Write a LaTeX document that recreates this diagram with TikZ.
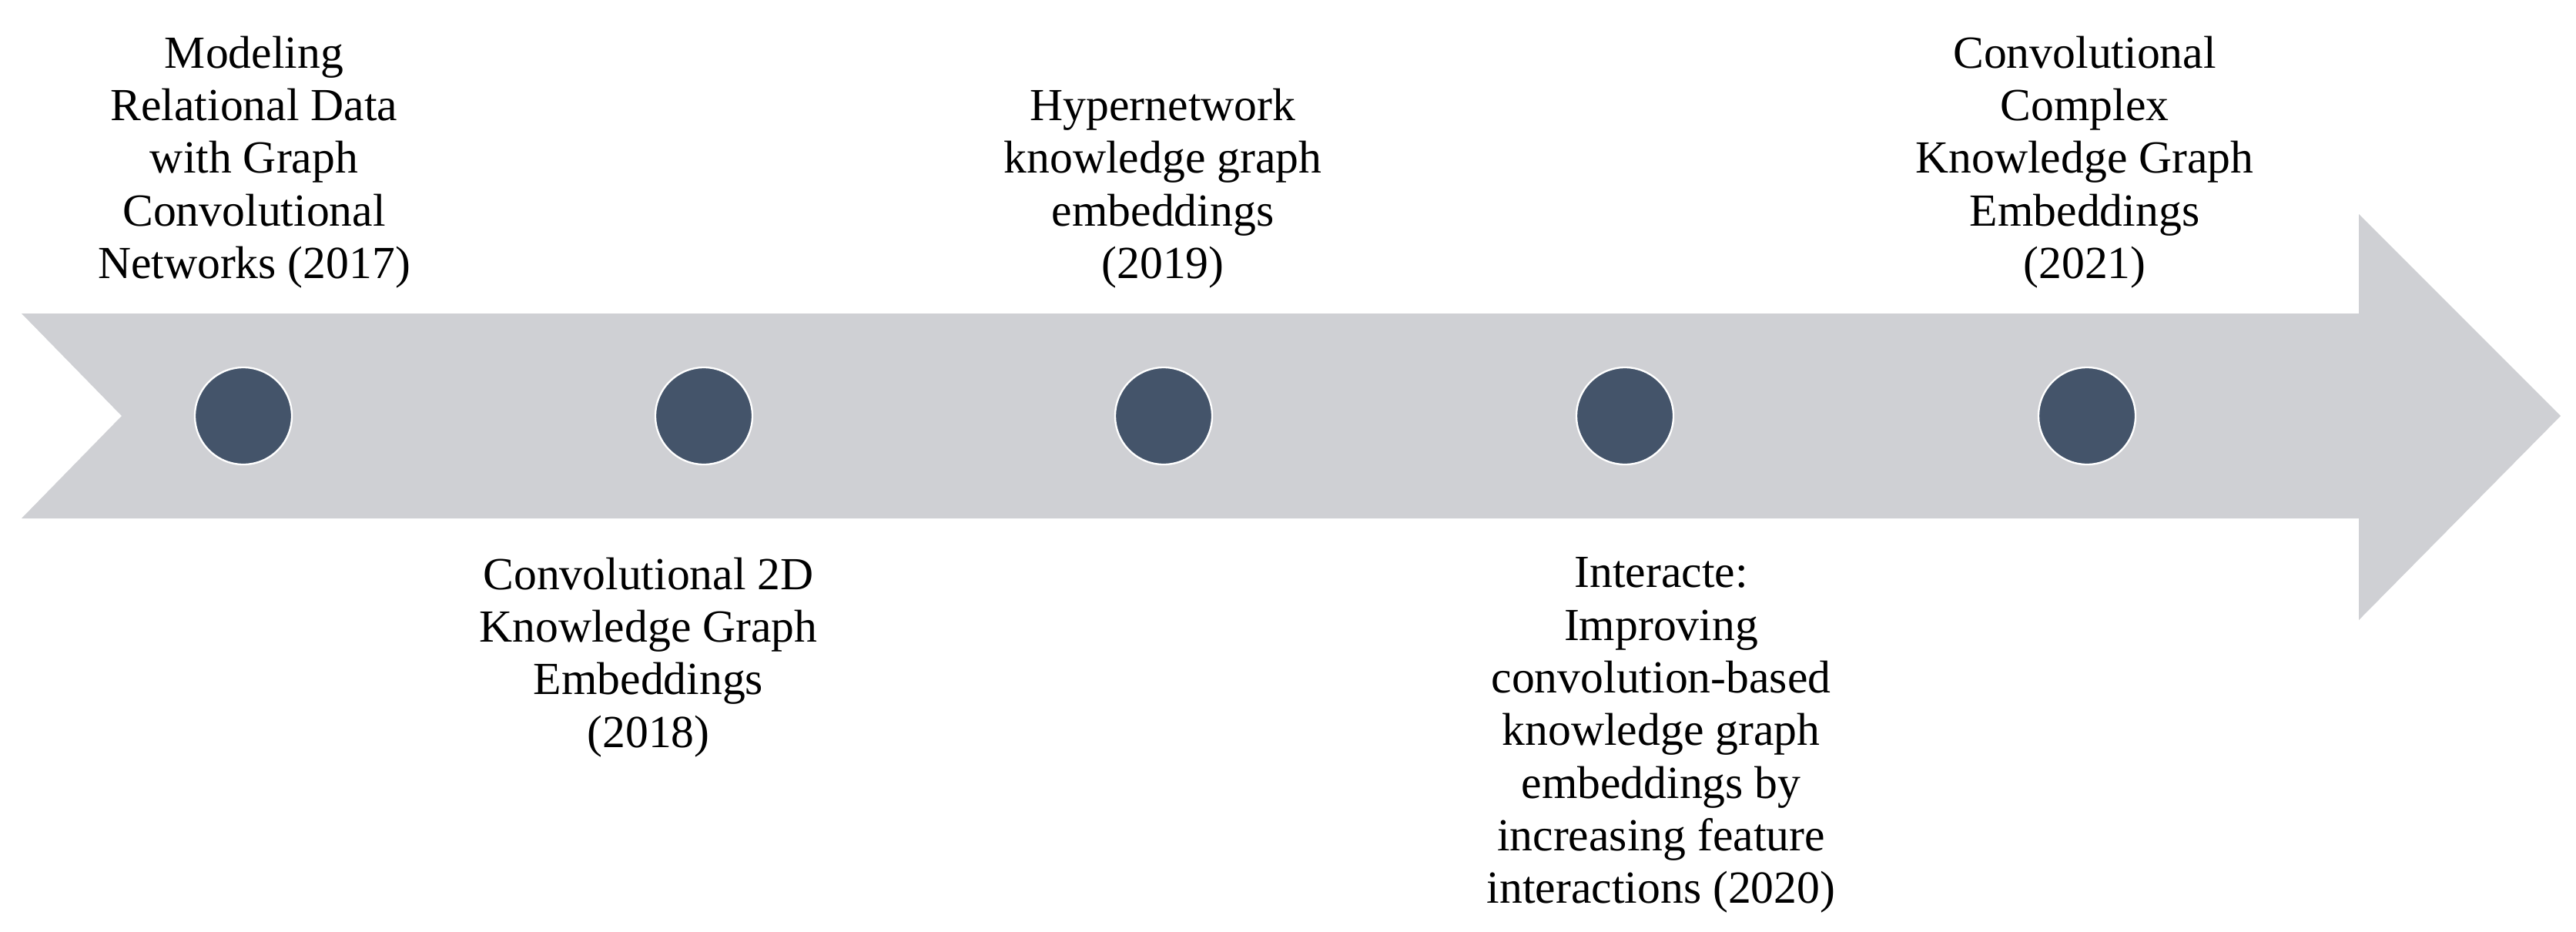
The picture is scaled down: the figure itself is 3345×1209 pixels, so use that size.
\documentclass[tikz,border=0pt]{standalone}
\usepackage{fontspec}
\setmainfont{Liberation Serif}
\definecolor{bandgray}{RGB}{207,208,212}
\definecolor{dotblue}{RGB}{68,84,106}
\tikzset{
  dot/.style={circle, fill=dotblue, draw=white, line width=0.7pt, minimum size=37.8pt, inner sep=0pt},
  lbl/.style={align=center, inner sep=0pt, font=\fontsize{17.9pt}{20.5pt}\selectfont},
  toplbl/.style={lbl, anchor=south},
  botlbl/.style={lbl, anchor=north}
}
\begin{document}
\begin{tikzpicture}[x=0.3pt, y=-0.3pt]
\useasboundingbox (0,0) rectangle (3345,1209);
% timeline band
\fill[bandgray] (28,407) -- (3063,407) -- (3063,278) -- (3325,540) -- (3063,805)
  -- (3063,673) -- (28,673) -- (158,540) -- cycle;
% dots
\node[dot] (d1) at (316,540) {};
\node[dot] (d2) at (914,540) {};
\node[dot] (d3) at (1511,540) {};
\node[dot] (d4) at (2110,540) {};
\node[dot] (d5) at (2710,540) {};
% labels
\node[toplbl] (l1) at (330,375) {Modeling\\Relational Data\\with Graph\\Convolutional\\Networks (2017)};
\node[botlbl] (l2) at (842,723) {Convolutional 2D\\Knowledge Graph\\Embeddings\\(2018)};
\node[toplbl] (l3) at (1510,375) {Hypernetwork\\knowledge graph\\embeddings\\(2019)};
\node[botlbl] (l4) at (2157,723) {Interacte:\\Improving\\convolution-based\\knowledge graph\\embeddings by\\increasing feature\\interactions (2020)};
\node[toplbl] (l5) at (2707,375) {Convolutional\\Complex\\Knowledge Graph\\Embeddings\\(2021)};
\end{tikzpicture}
\end{document}
